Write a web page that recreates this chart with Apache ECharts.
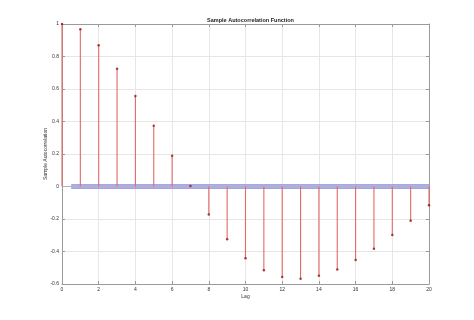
<!DOCTYPE html>
<html><head><meta charset="utf-8">
<script src="https://cdn.jsdelivr.net/npm/echarts@6/dist/echarts.min.js"></script>
<style>html,body{margin:0;padding:0;background:#fff}#c{width:474px;height:320px}</style>
</head><body><div id="c"></div>
<script>
const lags = [0,1,2,3,4,5,6,7,8,9,10,11,12,13,14,15,16,17,18,19,20];
const acf = [1.0,0.967,0.869,0.725,0.557,0.374,0.190,0.003,-0.173,-0.325,-0.442,-0.516,-0.557,-0.567,-0.549,-0.510,-0.452,-0.383,-0.298,-0.210,-0.116];
const bound = 0.01;
const boundStart = 0.5;
const titleText = 'Sample Autocorrelation Function';
const xLabel = 'Lag';
const yLabel = 'Sample Autocorrelation';

const pts = lags.map((l,i)=>[l,acf[i]]);
const chart = echarts.init(document.getElementById('c'));
const axisCol = '#9a9a9a';
const labelStyle = {fontSize:5, color:'#333', fontFamily:'Liberation Sans, Arial, sans-serif'};
chart.setOption({
  animation:false,
  title:{text:titleText,left:245.5,textAlign:'center',top:12,textStyle:{fontSize:5.5,fontWeight:'bold',color:'#222',fontFamily:'Liberation Sans, Arial, sans-serif'}},
  grid:{left:62,right:45,top:24,bottom:36},
  xAxis:[{type:'value',min:0,max:20,interval:2,
    name:xLabel,nameLocation:'middle',nameGap:10,nameMoveOverlap:false,nameTextStyle:{fontSize:5,color:'#333'},
    axisLine:{onZero:false,lineStyle:{color:axisCol,width:1}},
    axisTick:{inside:true,length:3,lineStyle:{color:axisCol}},
    axisLabel:Object.assign({margin:3},labelStyle),
    splitLine:{show:true,lineStyle:{color:'#e6e6e6',width:1}}},
   {type:'value',min:0,max:20,interval:2,position:'top',
    axisLine:{onZero:false,lineStyle:{color:axisCol,width:1}},
    axisTick:{inside:true,length:3,lineStyle:{color:axisCol}},
    axisLabel:{show:false},splitLine:{show:false}}],
  yAxis:[{type:'value',min:-0.6,max:1,interval:0.2,
    name:yLabel,nameLocation:'middle',nameGap:14,nameMoveOverlap:false,nameTextStyle:{fontSize:5,color:'#333'},
    axisLine:{onZero:false,lineStyle:{color:axisCol,width:1}},
    axisTick:{inside:true,length:3,lineStyle:{color:axisCol}},
    axisLabel:Object.assign({margin:3,formatter:v=>{const r=Math.round(v*10)/10;return r===0?'0':String(r);}},labelStyle),
    splitLine:{show:true,lineStyle:{color:'#e6e6e6',width:1}}},
   {type:'value',min:-0.6,max:1,interval:0.2,position:'right',
    axisLine:{onZero:false,lineStyle:{color:axisCol,width:1}},
    axisTick:{inside:true,length:3,lineStyle:{color:axisCol}},
    axisLabel:{show:false},splitLine:{show:false}}],
  series:[
    {type:'line',data:[[0,0],[20,0]],symbol:'none',lineStyle:{color:'#b0b0c0',width:1},z:2,
     markArea:{silent:true,itemStyle:{color:'#d6d6e6'},data:[[{coord:[boundStart,-bound]},{coord:[20,bound]}]]}},
    {type:'line',data:[[boundStart,bound],[20,bound]],symbol:'none',lineStyle:{color:'#7070e0',width:1},z:3},
    {type:'line',data:[[boundStart,-bound],[20,-bound]],symbol:'none',lineStyle:{color:'#7070e0',width:1},z:3},
    {type:'custom',data:pts,z:4,renderItem:function(params,api){
      const p0=api.coord([api.value(0),0]);const p1=api.coord([api.value(0),api.value(1)]);
      return {type:'line',shape:{x1:p0[0],y1:p0[1],x2:p1[0],y2:p1[1]},style:{stroke:'#e06a6a',lineWidth:1.1}};
    }},
    {type:'scatter',data:pts,symbol:'circle',symbolSize:2.5,itemStyle:{color:'#9a1010'},z:5}
  ]
});
</script></body></html>
